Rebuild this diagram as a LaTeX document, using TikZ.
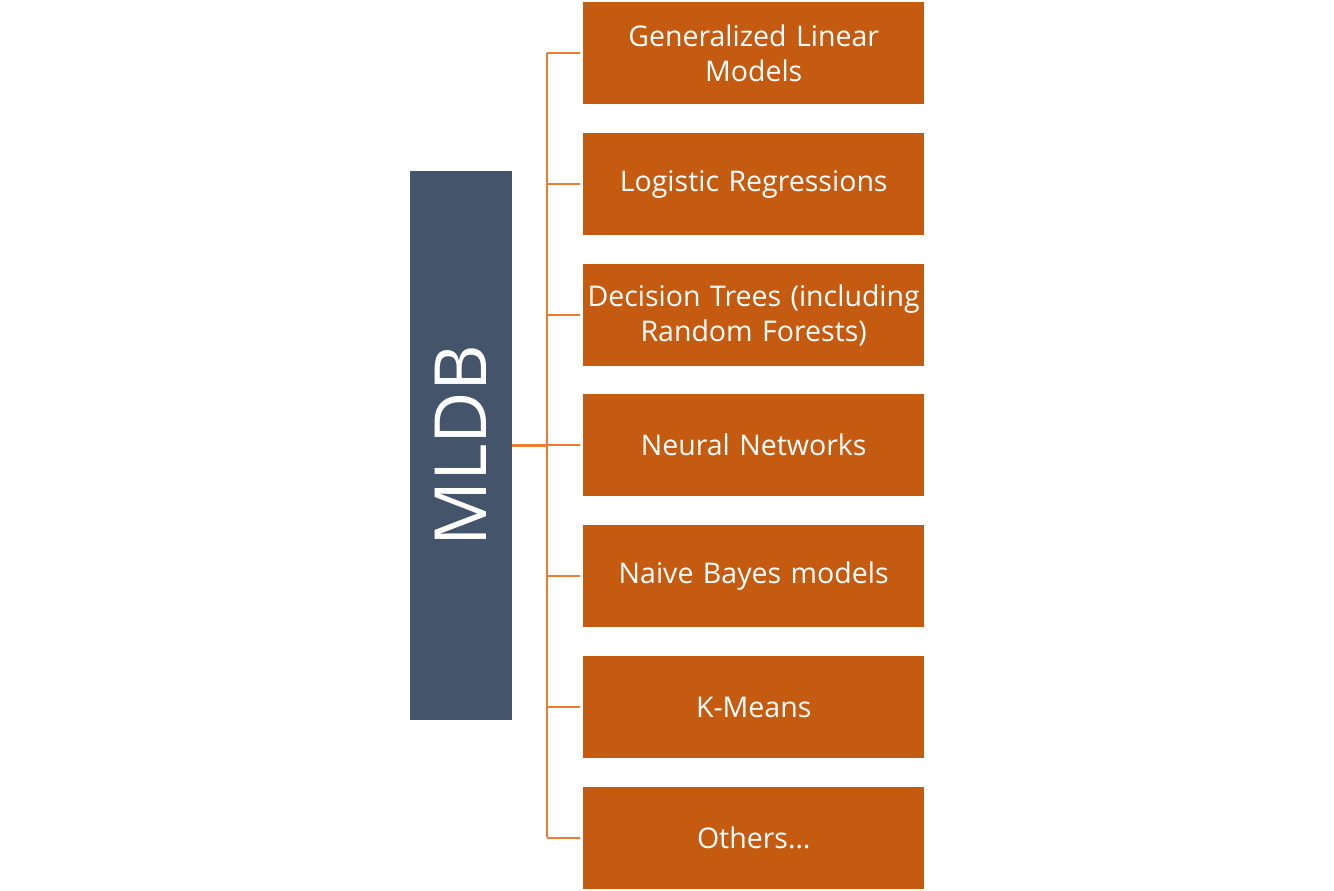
\documentclass[tikz,border=0pt]{standalone}
\usepackage{fontspec}
\setmainfont{Open Sans}
\definecolor{slate}{HTML}{44546A}
\definecolor{boxor}{HTML}{C55A11}
\definecolor{lineor}{HTML}{ED7D31}
\begin{document}
\begin{tikzpicture}[x=1pt,y=-1pt,
  item/.style={fill=boxor,draw=none,minimum width=341pt,minimum height=102pt,inner sep=0pt,
    text=white,font=\fontsize{28.5}{35}\selectfont,align=center,text width=341pt,anchor=north west},
  link/.style={draw=lineor,line width=2pt},
  root/.style={fill=slate,draw=none,minimum width=102pt,minimum height=549pt,inner sep=0pt,anchor=north west}]
\useasboundingbox (0,0) rectangle (1334,891);
\node[root] (m) at (410,171) {};
\node[rotate=90,text=white,font=\fontsize{72}{72}\selectfont] (mt) at (m.center) {MLDB};
\node[item] (b1) at (583,2) {Generalized Linear\\Models};
\node[item] (b2) at (583,133) {Logistic Regressions};
\node[item] (b3) at (583,264) {Decision Trees (including\\Random Forests)};
\node[item] (b4) at (583,394) {Neural Networks};
\node[item] (b5) at (583,525) {Naive Bayes models};
\node[item] (b6) at (583,656) {K-Means};
\node[item] (b7) at (583,787) {Others\dots};
\coordinate (bus) at (548,445);
\draw[link,line width=3pt] (m.east |- bus) -- (bus);
\draw[link] (547,53) -- (547,837);
\foreach \i in {1,...,7}{
  \draw[link] (547,0 |- b\i.west) -- ([xshift=-3pt]b\i.west);
}
\end{tikzpicture}
\end{document}
